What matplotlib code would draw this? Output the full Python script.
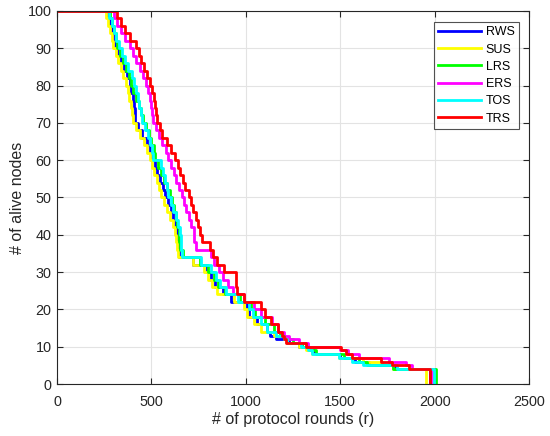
import matplotlib
matplotlib.use("Agg")
import matplotlib.pyplot as plt

plt.rcParams['font.family'] = ['Liberation Sans', 'DejaVu Sans']

# alive-node levels (shared) and round at which each series reaches that level
levels = [100, 98, 96, 94, 92, 90, 88, 86, 84, 82, 80, 78, 76, 74, 72, 70, 68, 66, 64, 62,
          60, 58, 56, 54, 52, 50, 48, 46, 44, 42, 40, 38, 36, 34, 32, 30, 28, 26, 24, 22,
          20, 18, 16, 14, 13, 12, 11, 10, 9, 8, 7, 6, 5, 4, 0]

rws = [0, 268, 280, 290, 298, 308, 322, 338, 355, 372, 385, 392, 400, 406, 411, 415, 430, 450, 475, 492,
       505, 518, 532, 546, 560, 574, 588, 602, 614, 624, 633, 638, 642, 648, 720, 793, 815, 835, 880, 920,
       1005, 1016, 1060, 1110, 1130, 1160, 1230, 1280, 1330, 1360, 1500, 1580, 1650, 1790, 1975]
sus = [0, 262, 272, 280, 290, 298, 312, 325, 338, 352, 365, 374, 382, 390, 397, 404, 420, 440, 460, 476,
       490, 503, 516, 530, 542, 553, 568, 584, 600, 615, 627, 630, 633, 640, 720, 777, 800, 820, 850, 940,
       989, 1005, 1043, 1080, 1150, 1200, 1218, 1282, 1320, 1351, 1495, 1620, 1720, 1780, 1955]
lrs = [0, 280, 292, 300, 310, 318, 335, 350, 365, 380, 390, 405, 420, 435, 445, 455, 470, 485, 500, 512,
       521, 535, 550, 565, 585, 600, 610, 620, 630, 638, 644, 648, 652, 665, 760, 800, 830, 855, 890, 970,
       1027, 1050, 1100, 1150, 1180, 1210, 1250, 1300, 1340, 1370, 1520, 1600, 1640, 1780, 2010]
ers = [0, 300, 320, 340, 362, 388, 405, 420, 440, 458, 473, 482, 490, 498, 505, 511, 525, 540, 558, 575,
       590, 605, 618, 632, 646, 660, 672, 685, 698, 710, 723, 728, 734, 814, 830, 856, 880, 905, 930, 990,
       1043, 1080, 1140, 1170, 1200, 1230, 1280, 1330, 1500, 1540, 1600, 1760, 1850, 1880, 1990]
tos = [0, 275, 290, 302, 315, 330, 345, 360, 378, 395, 410, 420, 428, 436, 443, 450, 465, 480, 495, 505,
       511, 553, 562, 570, 580, 590, 602, 615, 628, 642, 652, 655, 657, 660, 765, 814, 840, 862, 895, 960,
       1016, 1040, 1080, 1110, 1160, 1200, 1220, 1290, 1330, 1351, 1495, 1560, 1620, 1800, 1995]
trs = [0, 318, 340, 362, 388, 420, 432, 445, 460, 478, 495, 505, 512, 520, 526, 532, 545, 558, 580, 605,
       627, 640, 652, 665, 680, 697, 710, 722, 735, 748, 760, 766, 810, 825, 845, 883, 946, 950, 955, 990,
       1080, 1100, 1133, 1170, 1191, 1200, 1213, 1319, 1505, 1530, 1565, 1718, 1777, 1867, 1975]

series = [("RWS", rws, "#0000ff"), ("SUS", sus, "#ffff00"), ("LRS", lrs, "#00ff00"),
          ("ERS", ers, "#ff00ff"), ("TOS", tos, "#00ffff"), ("TRS", trs, "#ff0000")]

fig = plt.figure(figsize=(5.5, 4.36), dpi=100)
ax = fig.add_axes([57/550, 52/436, 472/550, 373/436])

for name, xs, col in series:
    ax.step(xs, levels, where='post', color=col, lw=2.0, label=name)

ax.set_xlim(0, 2500)
ax.set_ylim(0, 100)
ax.set_xticks([0, 500, 1000, 1500, 2000, 2500])
ax.set_yticks(range(0, 101, 10))
ax.grid(True, color='#e3e3e3', lw=0.8)
ax.set_axisbelow(True)
for s in ax.spines.values():
    s.set_color('#262626')
    s.set_linewidth(0.8)
ax.tick_params(direction='in', top=True, right=True, length=4, width=0.8,
               labelsize=10.4, colors='#262626', labelcolor='#262626')
ax.tick_params(axis='y', pad=4)
ax.tick_params(axis='x', pad=8)
ax.set_xlabel('# of protocol rounds (r)', fontsize=11.5, color='#262626', labelpad=2)
ax.set_ylabel('# of alive nodes', fontsize=11.5, color='#262626', labelpad=2)

leg = ax.legend(loc='upper right', bbox_to_anchor=(519/550, 22/436), bbox_transform=fig.transFigure,
                fontsize=9, frameon=True, fancybox=False, edgecolor='#262626', handlelength=3.4,
                handletextpad=0.4, borderpad=0.35, labelspacing=0.42, borderaxespad=0.0)
leg.get_frame().set_linewidth(0.8)
# anchor legend by its top-right corner in figure pixels
leg.set_bbox_to_anchor((519/550, 1 - 22/436), transform=fig.transFigure)

fig.savefig('out.png', dpi=100)
